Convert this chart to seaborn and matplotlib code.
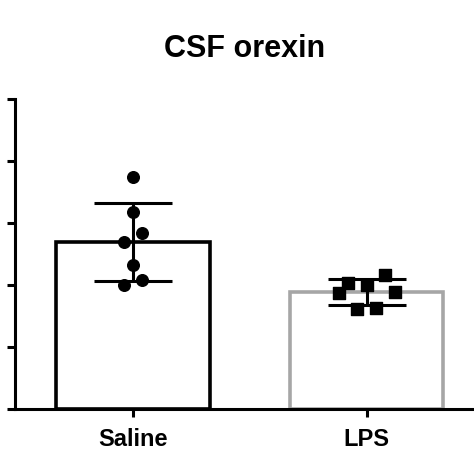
import matplotlib
matplotlib.use("Agg")
import matplotlib.pyplot as plt
import seaborn as sns
import numpy as np
import pandas as pd

groups = ["Saline", "LPS"]
saline_vals = [187, 159, 142, 134.5, 116, 104, 100]
saline_dx = [0.0, 0.0, 0.04, -0.04, 0.0, 0.04, -0.04]
lps_vals = [108, 101.5, 100, 94.5, 93.5, 81.5, 80.5]
lps_dx = [0.08, -0.08, 0.0, 0.12, -0.12, 0.04, -0.04]
edge_colors = ["black", "#a6a6a6"]
markers = ["o", "s"]
yticks = [0, 50, 100, 150, 200, 250]

sns.set_style("ticks")
plt.rcParams['font.family'] = ['Liberation Sans', 'DejaVu Sans']
plt.rcParams['text.color'] = 'black'
plt.rcParams['xtick.color'] = 'black'
plt.rcParams['ytick.color'] = 'black'
plt.rcParams['axes.edgecolor'] = 'black'

fig = plt.figure(figsize=(4.74, 4.74), dpi=100)
ax = fig.add_axes([15/474, 1 - 409/474, 1 - 15/474, (409 - 99)/474])

df = pd.DataFrame({"group": groups, "mean": [np.mean(saline_vals), np.mean(lps_vals)]})
sns.barplot(data=df, x="group", y="mean", ax=ax, width=0.657, fill=False, errorbar=None)
for patch, c in zip(ax.patches, edge_colors):
    patch.set_edgecolor(c)
    patch.set_linewidth(2.6)
    patch.set_facecolor("white")
    patch.set_fill(True)
    patch.set_zorder(1)

for i, (vals, dx) in enumerate([(saline_vals, saline_dx), (lps_vals, lps_dx)]):
    m, s = np.mean(vals), np.std(vals, ddof=1)
    ax.errorbar(i, m, yerr=s, color="black", capsize=28, elinewidth=2.2,
                capthick=2.2, zorder=3)
    ax.scatter(np.array(dx) + i, vals, marker=markers[i], s=70, color="black", zorder=4)

ax.set_xlim(-0.506, 1.46)
ax.set_ylim(0, 250)
ax.set_yticks(yticks)
ax.set_xlabel("")
ax.set_ylabel("")
for sp in ["top", "right"]:
    ax.spines[sp].set_visible(False)
for sp in ["left", "bottom"]:
    ax.spines[sp].set_linewidth(2.2)
ax.tick_params(width=2.2, length=6, labelsize=15, pad=8, colors="black")
for lab in ax.get_xticklabels():
    lab.set_fontweight("bold")
    lab.set_fontsize(17)
    lab.set_color("black")
ax.set_title("CSF orexin", fontsize=22, fontweight="bold", pad=30, color="black")
fig.savefig("out.png", dpi=100)
